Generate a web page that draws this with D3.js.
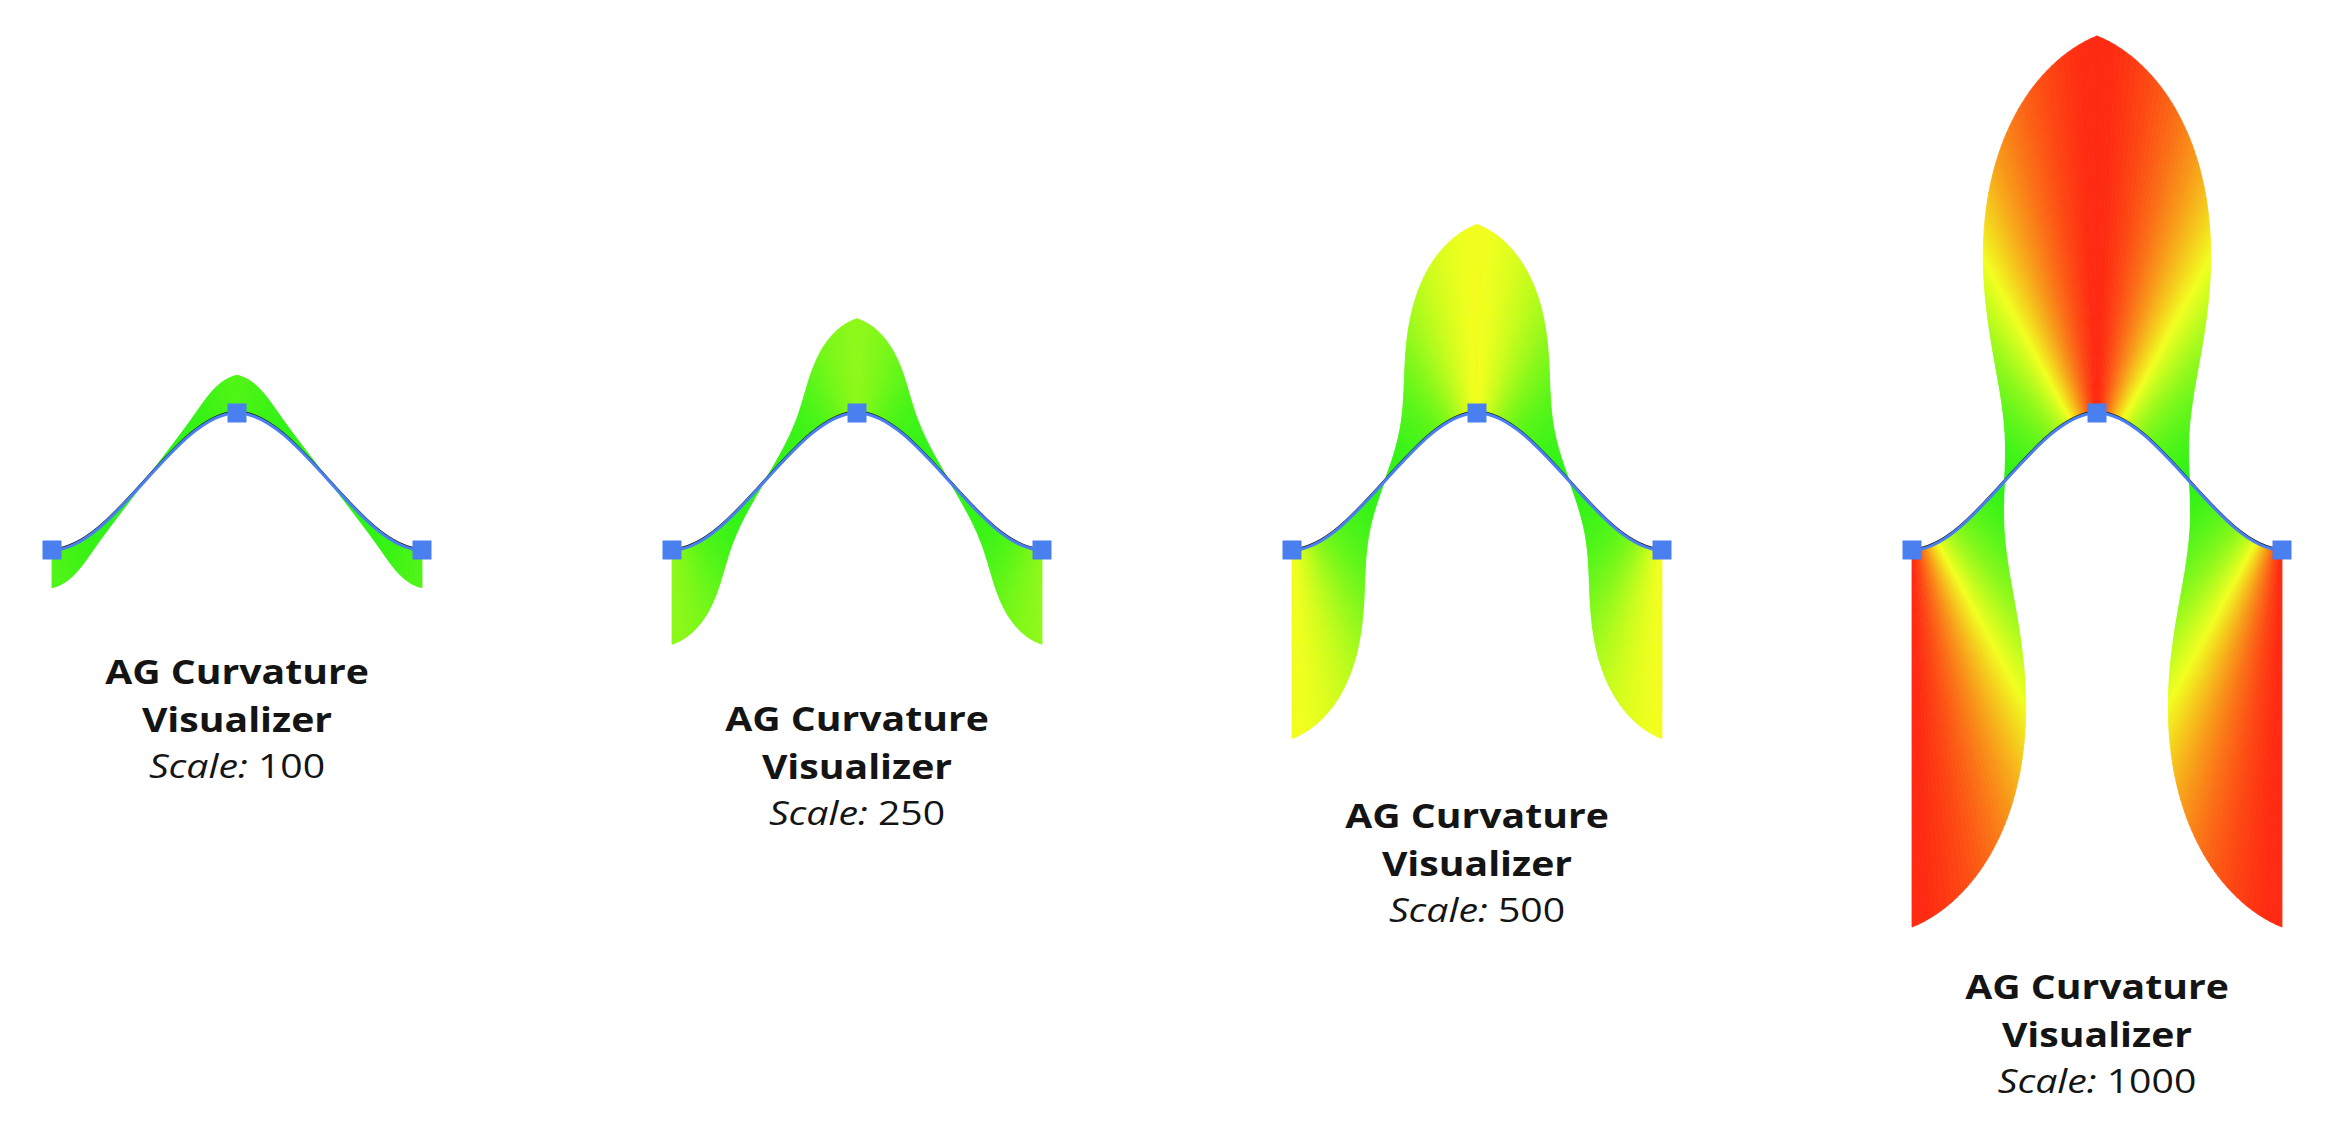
<!DOCTYPE html>
<html>
<head>
<meta charset="utf-8">
<script src="https://cdn.jsdelivr.net/npm/d3@7"></script>
<style>
  body { margin: 0; background: #fff; }
  text { font-family: "Open Sans", "Noto Sans", sans-serif; fill: #141414; }
</style>
</head>
<body>
<div id="chart"></div>
<script>
// curvature comb scales shown in the four panels
const combScales = [100, 250, 500, 1000];
// anchor points of the curve (normalised units), tangents horizontal
const nodeX = [0, 0.5, 1];
const nodeY = [0, 1, 0];
const titleLines = ["AG Curvature", "Visualizer"];
const scaleWord = "Scale:";

var W = 2328, H = 1124;
var halfW = 185, baseY = 550, peakY = 413;
var labelBase = [684, 731, 828, 999];   // first text baseline per panel
var lineGap = [0, 48, 94];
var COMB = 15.7;      // px of comb per (curvature * scale)
var N = 300;          // samples per bezier segment

var svg = d3.select("#chart").append("svg")
    .attr("width", W)
    .attr("height", H);

// panel centres
var px = d3.scalePoint()
    .domain(combScales)
    .range([237, 237 + 3 * 620]);

var x = d3.scaleLinear().domain([0, 1]).range([-halfW, halfW]);
var y = d3.scaleLinear().domain([0, 1]).range([baseY, peakY]);

// comb length -> colour
var color = d3.scaleLinear()
    .domain([0, 185, 370])
    .range(["#25f212", "#f2ff1e", "#ff2b12"])
    .clamp(true);

// bezier segments in pixel space
var nodes = nodeX.map((d, i) => [x(d), y(nodeY[i])]);
var segs = [];
for (let i = 0; i < nodes.length - 1; i++) {
    let p0 = nodes[i], p3 = nodes[i + 1];
    let h = (p3[0] - p0[0]) / 3;
    segs.push([p0, [p0[0] + h, p0[1]], [p3[0] - h, p3[1]], p3]);
}

function evalSeg(s, t) {
    let u = 1 - t;
    let p = [0, 1].map(k => u*u*u*s[0][k] + 3*u*u*t*s[1][k] + 3*u*t*t*s[2][k] + t*t*t*s[3][k]);
    let d1 = [0, 1].map(k => 3*(u*u*(s[1][k]-s[0][k]) + 2*u*t*(s[2][k]-s[1][k]) + t*t*(s[3][k]-s[2][k])));
    let d2 = [0, 1].map(k => 6*(u*(s[2][k]-2*s[1][k]+s[0][k]) + t*(s[3][k]-2*s[2][k]+s[1][k])));
    let sp = Math.hypot(d1[0], d1[1]);
    let kappa = (d1[0]*d2[1] - d1[1]*d2[0]) / (sp*sp*sp);
    let n = [-d1[1] / sp, d1[0] / sp];
    return {p: p, kappa: kappa, n: n};
}

var curvePath = d3.path();
curvePath.moveTo(segs[0][0][0], segs[0][0][1]);
segs.forEach(s => curvePath.bezierCurveTo(s[1][0], s[1][1], s[2][0], s[2][1], s[3][0], s[3][1]));

combScales.forEach(function(sc, pi) {
    var g = svg.append("g")
        .attr("transform", "translate(" + px(sc) + ",0)");

    // comb quads
    var quads = [];
    segs.forEach(function(s) {
        var pts = d3.range(N + 1).map(function(i) {
            var e = evalSeg(s, i / N);
            var len = COMB * sc * e.kappa;
            return {p: e.p, tip: [e.p[0] - len * e.n[0], e.p[1] - len * e.n[1]], len: Math.abs(len)};
        });
        for (let i = 0; i < N; i++) {
            quads.push({
                poly: [pts[i].p, pts[i + 1].p, pts[i + 1].tip, pts[i].tip],
                len: (pts[i].len + pts[i + 1].len) / 2
            });
        }
    });

    g.append("g")
        .selectAll("path")
        .data(quads)
        .join("path")
            .attr("d", d => "M" + d.poly.join("L") + "Z")
            .attr("fill", d => color(d.len))
            .attr("stroke", d => color(d.len))
            .attr("stroke-width", 0.8);

    // curve
    g.append("path")
        .attr("d", curvePath.toString())
        .attr("transform", "translate(0,-1.5)")
        .attr("fill", "none")
        .attr("stroke", "#1a1a1a")
        .attr("stroke-width", 1.6);
    g.append("path")
        .attr("d", curvePath.toString())
        .attr("fill", "none")
        .attr("stroke", "#4a7ff0")
        .attr("stroke-width", 3);

    // anchor squares
    g.append("g")
        .selectAll("rect")
        .data(nodes)
        .join("rect")
            .attr("x", d => d[0] - 9.5)
            .attr("y", d => d[1] - 9.5)
            .attr("width", 19)
            .attr("height", 19)
            .attr("fill", "#4a7ff0");

    // label (the reference type is set a little wide)
    var lab = g.append("text")
        .attr("text-anchor", "middle")
        .attr("font-size", 33.5)
        .attr("transform", "scale(1.17,1)");
    titleLines.forEach(function(t, li) {
        lab.append("tspan")
            .attr("x", 0)
            .attr("y", labelBase[pi] + lineGap[li])
            .attr("font-weight", 700)
            .text(t);
    });
    var last = lab.append("tspan")
        .attr("x", 0)
        .attr("y", labelBase[pi] + lineGap[2]);
    last.append("tspan").attr("font-style", "italic").text(scaleWord);
    last.append("tspan").text(" " + sc);
});
</script>
</body>
</html>
